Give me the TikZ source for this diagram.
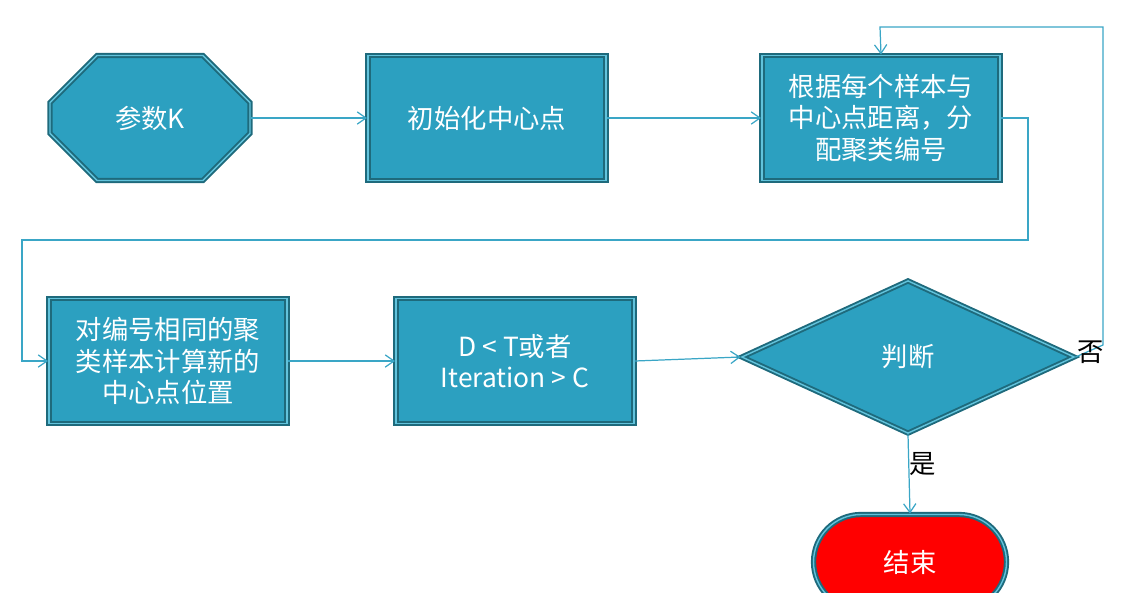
\documentclass[tikz,border=0pt]{standalone}
\usepackage{fontspec}
\setmainfont{Noto Sans CJK SC}
\usetikzlibrary{shapes.geometric,shapes.misc,arrows.meta}
\definecolor{boxfill}{HTML}{2CA0C0}
\definecolor{boxdraw}{HTML}{1E6A7C}
\definecolor{boxin}{HTML}{62C3DC}
\definecolor{linec}{HTML}{3AA6C6}
\begin{document}
\begin{tikzpicture}[x=0.02cm,y=-0.02cm,
  base/.style={fill=boxfill,draw=boxdraw,line width=1.1pt,double=boxin,double distance=0.8pt,text=white,font=\fontsize{15}{18}\selectfont,align=center,inner sep=2pt},
  boxn/.style={base,rectangle,minimum width=238*0.02cm,minimum height=125*0.02cm},
  conn/.style={draw=linec,line width=0.7pt,-{Straight Barb[length=5pt,width=7pt]}}]
\useasboundingbox (0,0) rectangle (1145,592);
\begin{scope}
\clip (0,0) rectangle (1145,592);
\node[base,chamfered rectangle,chamfered rectangle xsep=25*0.02cm,chamfered rectangle ysep=62*0.02cm,minimum width=200*0.02cm,minimum height=125*0.02cm,inner sep=0pt] (k) at (150,118) {参数K};
\node[boxn] (init) at (487,118) {初始化中心点};
\node[boxn] (assign) at (881,118) {根据每个样本与\\中心点距离，分\\配聚类编号};
\node[boxn] (upd) at (168,361) {对编号相同的聚\\类样本计算新的\\中心点位置};
\node[boxn] (cond) at (515,361) {D < T或者\\Iteration > C};
\node[base,diamond,aspect=2.2,minimum width=333*0.02cm,minimum height=153*0.02cm,inner sep=0pt] (judge) at (908,357) {判断};
\node[base,rounded rectangle,fill=red,minimum width=200*0.02cm,minimum height=95*0.02cm] (end) at (910,562) {结束};
\end{scope}
\draw[conn] (k.east) -- (init.west);
\draw[conn] (init.east) -- (assign.west);
\coordinate (r1) at (1028,118);
\coordinate (r2) at (22,240);
\draw[conn] (assign.east) -- (r1) -- (1028,240) -- (r2) -- (22,361) -- (upd.west);
\draw[conn] (upd.east) -- (cond.west);
\draw[conn] (cond.east) -- (judge.west);
\coordinate (q1) at (1103,345);
\draw[conn] (judge.east) -- (q1) -- (1103,27) -- (880,27) -- (assign.north);
\node[font=\fontsize{15}{18}\selectfont,inner sep=0pt] (no) at (1091,352) {否};
\draw[conn] (judge.south) -- (end.north);
\node[font=\fontsize{15}{18}\selectfont,inner sep=0pt] (yes) at (923,464) {是};
\end{tikzpicture}
\end{document}
